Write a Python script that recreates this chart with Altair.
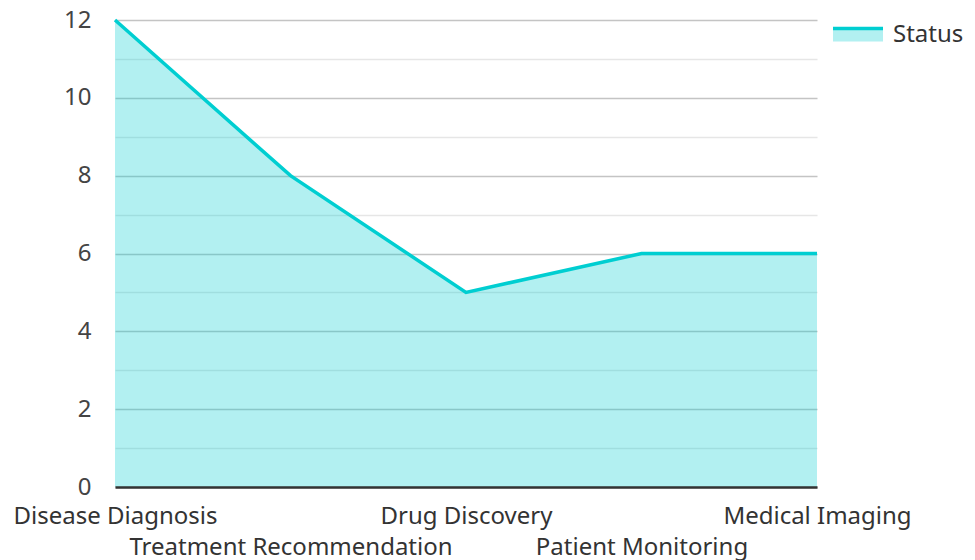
import altair as alt
import pandas as pd

categories = ["Disease Diagnosis", "Treatment Recommendation", "Drug Discovery",
              "Patient Monitoring", "Medical Imaging"]
values = [12, 8, 5, 6, 6]
series_name = "Status"
y_ticks = list(range(0, 13))

df = pd.DataFrame({"task": categories, "value": values, "series": series_name})

FONT = "Noto Sans"
TEAL = "#00CED1"
FS = 24

x_enc = alt.X(
    "task:N",
    sort=categories,
    scale=alt.Scale(type="point", padding=0),
    axis=alt.Axis(
        title=None,
        labelAngle=0,
        labelOverlap=False,
        labelLimit=1000,
        labelFontSize=FS,
        labelFont=FONT,
        labelColor="#333333",
        labelPadding=17,
        labelLineHeight=31,
        labelExpr="indexof(['Treatment Recommendation','Patient Monitoring'], datum.value) >= 0 ? ['', datum.label] : datum.label",
        ticks=False,
        grid=False,
        domainColor="#333333",
        domainWidth=2.5,
        zindex=1,
    ),
)
y_enc = alt.Y(
    "value:Q",
    scale=alt.Scale(domain=[0, 12], nice=False),
    axis=alt.Axis(
        title=None,
        values=y_ticks,
        labelExpr="datum.value % 2 == 0 ? datum.label : ''",
        labelFontSize=FS,
        labelFont=FONT,
        labelColor="#444444",
        labelPadding=24,
        ticks=False,
        domain=False,
        grid=True,
        gridColor={"condition": {"test": "datum.value % 2 == 0", "value": "#c4c4c4"}, "value": "#e6e6e6"},
        gridWidth=1.5,
    ),
)

legend = alt.Legend(
    title=None,
    orient="none",
    legendX=716,
    legendY=-12,
    labelFontSize=FS,
    labelFont=FONT,
    labelColor="#333333",
    symbolType="M-1,-0.26L1,-0.26L1,0.26L-1,0.26Z",
    symbolSize=2500,
    symbolStrokeWidth=3.5,
    symbolDash=[50, 400],
    symbolFillColor="#b2f0f1",
    labelOffset=8,
)

area = alt.Chart(df).mark_area(color=TEAL, fillOpacity=0.3, interpolate="linear").encode(
    x=x_enc,
    y=y_enc,
)
line = alt.Chart(df).mark_line(strokeWidth=3.5, interpolate="linear").encode(
    x=x_enc,
    y=y_enc,
    stroke=alt.Stroke("series:N", scale=alt.Scale(range=[TEAL]), legend=legend),
)

chart = (area + line).properties(
    width=702, height=467,
    autosize=alt.AutoSizeParams(type="none"),
    padding={"left": 107, "top": 12, "right": 150, "bottom": 73},
).configure_view(stroke=None)

chart.save("out.html", embed_options={"renderer": "svg", "actions": False})
